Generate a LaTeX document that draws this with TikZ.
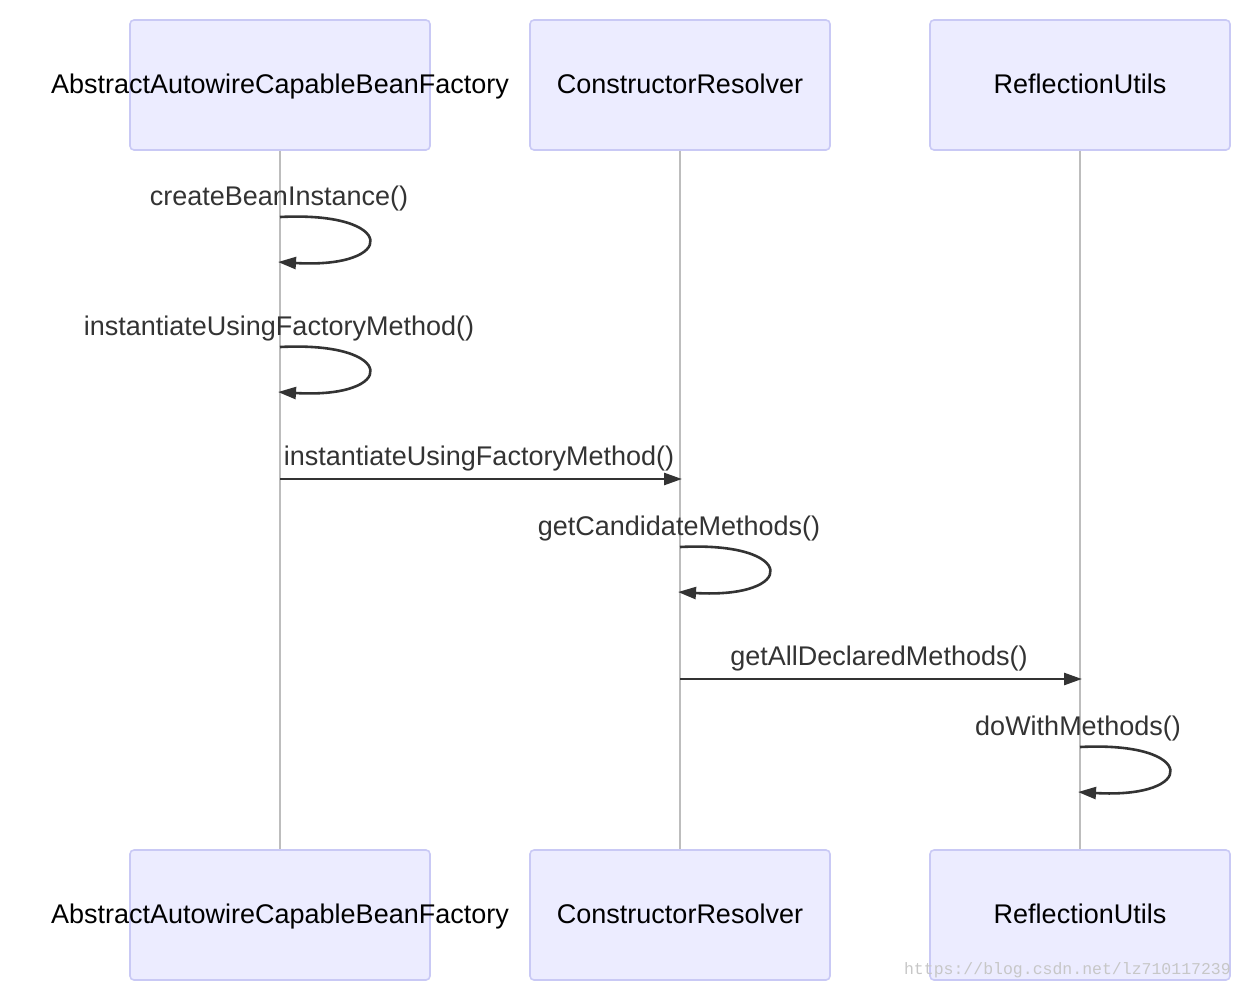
\documentclass[tikz,border=0pt]{standalone}
\usepackage{fontspec}
\setmainfont{Liberation Sans}
\newfontfamily\wmfont{Liberation Mono}
\usetikzlibrary{arrows.meta}
\definecolor{actfill}{HTML}{ECECFF}
\definecolor{actdraw}{HTML}{C9C9F5}
\definecolor{lifec}{HTML}{BDBDBD}
\definecolor{msgc}{HTML}{333333}
\begin{document}
\begin{tikzpicture}[x=1pt,y=-1pt,
  actor/.style={draw=actdraw,fill=actfill,line width=1.6pt,rounded corners=4pt,
    minimum width=300pt,minimum height=130pt,inner sep=0pt,
    label={[font=\fontsize{27}{30}\selectfont,text=black,inner sep=0pt,
      text height=22pt,text depth=6pt,anchor=center]center:#1}},
  life/.style={draw=lifec,line width=1.8pt},
  msg/.style={draw=msgc,line width=2.6pt,-{Triangle[length=18pt,width=12pt]}},
  lbl/.style={font=\fontsize{27}{30}\selectfont,text=msgc,anchor=base,inner sep=0pt}]
\useasboundingbox (0,0) rectangle (1242,988);
% actors
\node[actor={AbstractAutowireCapableBeanFactory}] (a1) at (280,85) {};
\node[actor={ConstructorResolver}] (a2) at (680,85) {};
\node[actor={ReflectionUtils}] (a3) at (1080,85) {};
\node[actor={AbstractAutowireCapableBeanFactory}] (b1) at (280,915) {};
\node[actor={ConstructorResolver}] (b2) at (680,915) {};
\node[actor={ReflectionUtils}] (b3) at (1080,915) {};
% lifelines
\draw[life] (a1.south) -- (b1.north);
\draw[life] (a2.south) -- (b2.north);
\draw[life] (a3.south) -- (b3.north);
% message coordinates
\coordinate (s1) at (280,217); \coordinate (e1) at (278,262);
\coordinate (s2) at (280,347); \coordinate (e2) at (278,392);
\coordinate (s3) at (280,479); \coordinate (e3) at (682,479);
\coordinate (s4) at (680,547); \coordinate (e4) at (678,592);
\coordinate (s5) at (680,679); \coordinate (e5) at (1082,679);
\coordinate (s6) at (1080,747); \coordinate (e6) at (1078,792);
% labels
\node[lbl] (l1) at (279,205) {createBeanInstance()};
\node[lbl] (l2) at (279,335) {instantiateUsingFactoryMethod()};
\node[lbl] (l3) at (479,465) {instantiateUsingFactoryMethod()};
\node[lbl] (l4) at (679,535) {getCandidateMethods()};
\node[lbl] (l5) at (879,665) {getAllDeclaredMethods()};
\node[lbl] (l6) at (1078,735) {doWithMethods()};
% messages
\draw[msg] (s1) .. controls (398,211) and (398,269) .. (e1);
\draw[msg] (s2) .. controls (398,341) and (398,399) .. (e2);
\draw[msg] (s3) -- (e3);
\draw[msg] (s4) .. controls (798,541) and (798,599) .. (e4);
\draw[msg] (s5) -- (e5);
\draw[msg] (s6) .. controls (1198,741) and (1198,799) .. (e6);
% watermark
\node[font=\wmfont\fontsize{16.5}{20}\selectfont,text=black!22,anchor=base east,inner sep=0pt] (wm) at (1231,974) {https://blog.csdn.net/lz710117239};
\end{tikzpicture}
\end{document}
